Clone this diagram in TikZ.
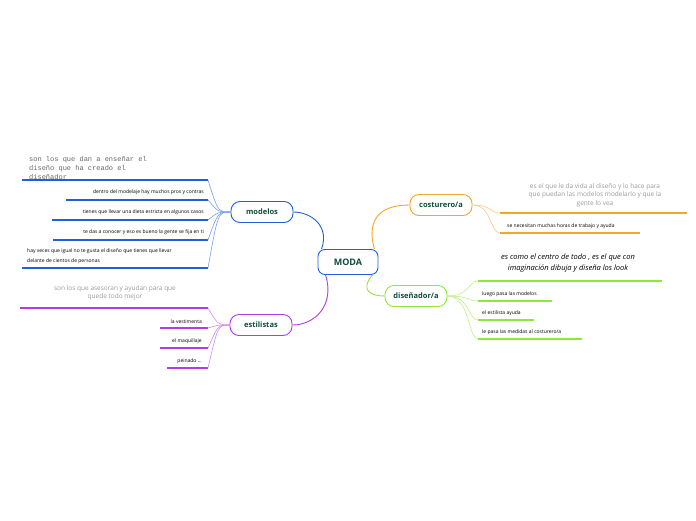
\documentclass[tikz,border=0pt]{standalone}
\usepackage{fontspec}
\setmainfont{Open Sans}
\newfontfamily\monof{Liberation Mono}
\usetikzlibrary{positioning}
\definecolor{cb}{HTML}{1F5FE0}
\definecolor{co}{HTML}{F5A52A}
\definecolor{cg}{HTML}{8EE83A}
\definecolor{cp}{HTML}{B23BE6}
\definecolor{ct}{HTML}{0F4C3A}
\tikzset{
 main/.style={draw=cb,line width=0.9pt,rounded corners=7pt,minimum width=60pt,minimum height=25pt,font=\fontsize{9}{10}\selectfont\bfseries,text=ct},
 br/.style={draw=#1,line width=0.9pt,rounded corners=9pt,minimum width=62pt,minimum height=21pt,font=\fontsize{7.5}{9}\selectfont\bfseries,text=ct},
 leaf/.style={font=\fontsize{5}{6.5}\selectfont,inner sep=0pt},
 grey/.style={font=\fontsize{6.5}{8.5}\selectfont,text=gray!80,inner sep=0pt,align=center},
 ul/.style={draw=#1,line width=1.3pt},
 con/.style={draw=#1,line width=0.9pt},
 thin/.style={draw=#1!60,line width=0.6pt},
}
\begin{document}
\begin{tikzpicture}[x=1pt,y=-1pt]
\useasboundingbox (0,0) rectangle (696,520);
\node[main] (m) at (348,262) {MODA};
\node[br=co] (cos) at (441,205) {costurero/a};
\node[br=cg] (dis) at (416,296) {diseñador/a};
\node[br=cb] (mod) at (262,212) {modelos};
\node[br=cp] (est) at (261,325) {estilistas};
\draw[con=co] (m.north east) ++(-4,0) .. controls (365,215) and (385,205) .. (cos.west);
\draw[con=cg] (m.south east) ++(-6,0) .. controls (360,290) and (370,296) .. (dis.west);
\draw[con=cb] (m.north west) ++(4,0) .. controls (330,225) and (310,212) .. (mod.east);
\draw[con=cp] (m.south west) ++(8,0) .. controls (335,305) and (315,325) .. (est.east);
% costurero leaves
\coordinate (c1) at (500,213); \coordinate (c2) at (500,233);
\draw[ul=co] (c1) -- (687,213); \draw[ul=co] (c2) -- (640,233);
\node[grey] at (595,195) {es el que le da vida al diseño y lo hace para\\que puedan las modelos modelarlo y que la\\gente lo vea};
\node[leaf,anchor=south west] at (507,229) {se necesitan muchas horas de trabajo y ayuda};
\draw[thin=co] (cos.east) .. controls (492,205) and (490,213) .. (c1);
\draw[thin=co] (cos.east) .. controls (492,205) and (490,233) .. (c2);
% disenador leaves
\coordinate (d1) at (478,281); \coordinate (d2) at (478,301); \coordinate (d3) at (478,320); \coordinate (d4) at (478,339);
\draw[ul=cg] (d1) -- (662,281); \draw[ul=cg] (d2) -- (552,301);
\draw[ul=cg] (d3) -- (534,320); \draw[ul=cg] (d4) -- (582,339);
\node[font=\fontsize{7.5}{11}\selectfont\itshape,align=center,inner sep=0pt] at (568,263) {es como el centro de todo , es el que con\\imaginación dibuja y diseña los look};
\node[leaf,anchor=south west] at (482,297) {luego pasa las modelos};
\node[leaf,anchor=south west] at (482,316) {el estilista ayuda};
\node[leaf,anchor=south west] at (482,335) {le pasa las medidas al costurero/a};
\draw[thin=cg] (dis.east) .. controls (470,296) and (468,281) .. (d1);
\draw[thin=cg] (dis.east) .. controls (470,296) and (468,301) .. (d2);
\draw[thin=cg] (dis.east) .. controls (470,296) and (468,320) .. (d3);
\draw[thin=cg] (dis.east) .. controls (470,296) and (468,339) .. (d4);
% modelos leaves
\coordinate (a1) at (208,180); \coordinate (a2) at (208,200); \coordinate (a3) at (208,220); \coordinate (a4) at (208,240); \coordinate (a5) at (208,268);
\draw[ul=cb] (22,180) -- (a1); \draw[ul=cb] (66,200) -- (a2); \draw[ul=cb] (52,220) -- (a3);
\draw[ul=cb] (53,240) -- (a4); \draw[ul=cb] (22,268) -- (a5);
\node[font=\fontsize{7}{9}\selectfont\monof,text=gray!80!black,align=left,anchor=north west,inner sep=0pt] at (29,156) {son los que dan a enseñar el\\diseño que ha creado el\\diseñador};
\node[leaf,anchor=south east] at (204,195) {dentro del modelaje hay muchos pros y contras};
\node[leaf,anchor=south east] at (204,215) {tienes que llevar una dieta estricta en algunos casos};
\node[leaf,anchor=south east] at (204,235) {te das a conocer y eso es bueno la gente se fija en ti};
\node[leaf,anchor=south west,align=left,font=\fontsize{5}{10}\selectfont] at (27,264) {hay veces que igual no te gusta el diseño que tienes que llevar\\delante de cientos de personas};
\foreach \c in {a1,a2,a3,a4,a5}{\draw[thin=cb] (mod.west) .. controls (218,212) and (218,212) .. (\c);}
% estilistas leaves
\coordinate (e1) at (208,308); \coordinate (e2) at (208,328); \coordinate (e3) at (208,348); \coordinate (e4) at (208,368);
\draw[ul=cp] (20,308) -- (e1); \draw[ul=cp] (160,328) -- (e2); \draw[ul=cp] (160,348) -- (e3); \draw[ul=cp] (167,368) -- (e4);
\node[grey] at (115,293) {son los que asesoran y ayudan para que\\quede todo mejor};
\node[leaf,anchor=south east] at (202,324) {la vestimenta};
\node[leaf,anchor=south east] at (202,344) {el maquillaje};
\node[leaf,anchor=south east] at (202,364) {peinado ...};
\foreach \c in {e1,e2,e3,e4}{\draw[thin=cp] (est.west) .. controls (218,325) and (218,325) .. (\c);}
\end{tikzpicture}
\end{document}
